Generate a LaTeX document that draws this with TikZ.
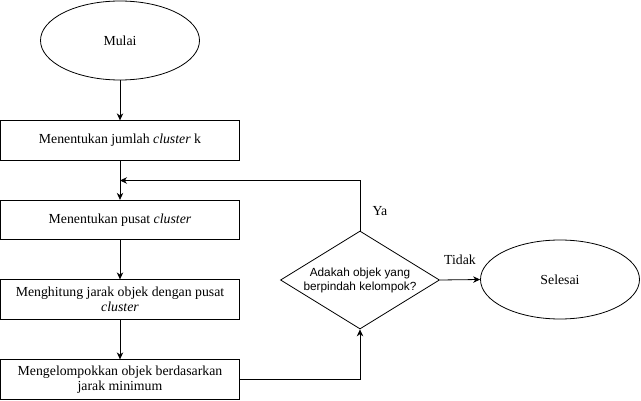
\documentclass[tikz,border=0pt]{standalone}
\usepackage{fontspec}
\setmainfont{Liberation Serif}
\newfontfamily\helv{Liberation Sans}
\usetikzlibrary{shapes.geometric,arrows.meta}
\tikzset{
  base/.style={draw=black, line width=0.8pt, line join=miter},
  proc/.style={base, rectangle, minimum width=239pt, minimum height=39.5pt, inner sep=0pt, align=center, font=\fontsize{13.8}{15.5}\selectfont},
  term/.style={base, ellipse, minimum width=159pt, minimum height=79pt, inner sep=0pt, font=\fontsize{13.8}{15.5}\selectfont},
  decide/.style={base, diamond, aspect=1.63, minimum width=159pt, minimum height=98pt, inner sep=0pt, align=center, font=\helv\fontsize{11.8}{14}\selectfont},
  flow/.style={base, -{Stealth[length=7pt,width=6.5pt]}},
  lab/.style={font=\fontsize{13.8}{15.5}\selectfont},
}
\begin{document}
\begin{tikzpicture}[x=1pt,y=-1pt]
  \useasboundingbox (0,0) rectangle (641,401);
  \node[term] (mulai) at (120,40.5) {Mulai};
  \node[proc] (jumlah) at (120,140.5) {Menentukan jumlah \textit{cluster} k};
  \node[proc] (pusat) at (120,220) {Menentukan pusat \textit{cluster}};
  \node[proc] (hitung) at (120,299.5) {Menghitung jarak objek dengan pusat\\\textit{cluster}};
  \node[proc] (kelompok) at (120,379.5) {Mengelompokkan objek berdasarkan\\jarak minimum};
  \node[decide] (cek) at (360,280) {Adakah objek yang\\berpindah kelompok?};
  \node[term] (selesai) at (560,279.5) {Selesai};
  \coordinate (balik) at (120,180.5);
  % main flow
  \draw[flow] (mulai) -- (jumlah);
  \draw[flow] (jumlah) -- (pusat);
  \draw[flow] (pusat) -- (hitung);
  \draw[flow] (hitung) -- (kelompok);
  \draw[flow] (kelompok.east) -| (cek.south);
  % loop back and exit
  \draw[flow] (cek.north) |- (balik);
  \draw[flow] (cek.east) -- (selesai.west);
  \node[lab] at (380,211.5) {Ya};
  \node[lab] at (460,260) {Tidak};
\end{tikzpicture}
\end{document}
